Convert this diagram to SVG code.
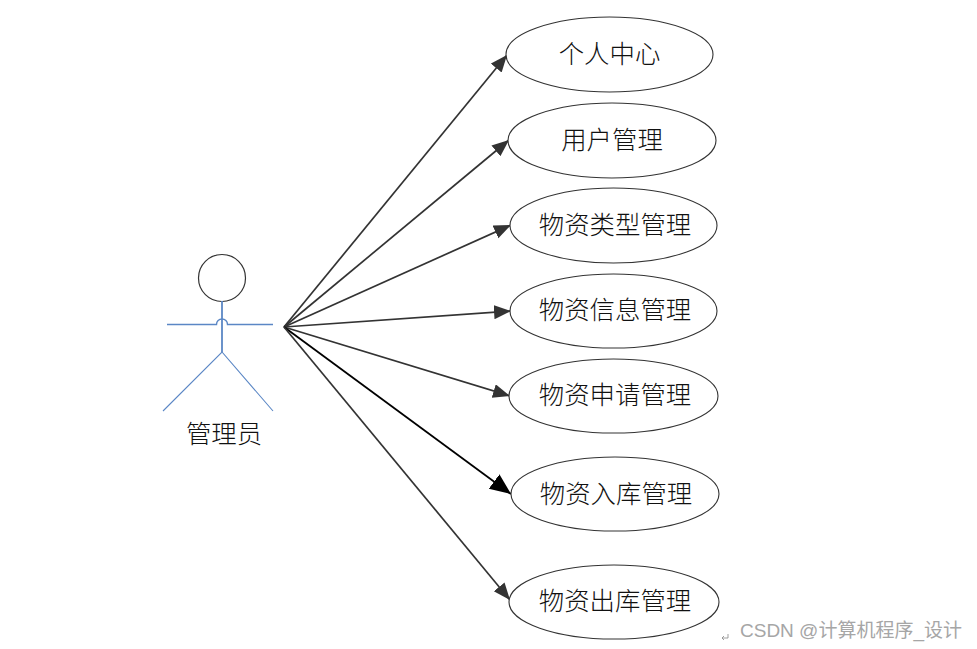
<svg xmlns="http://www.w3.org/2000/svg" width="977" height="649" viewBox="0 0 977 649">
<style>
.bg{fill:#fff}
.uc{fill:#fff;stroke:#333;stroke-width:1.1}
.lb{font-family:"Liberation Serif","Noto Sans CJK SC",serif;font-size:25.4px;font-weight:300;fill:#111;text-anchor:middle}
.con{stroke:#333;stroke-width:1.7;fill:none;marker-end:url(#a)}
.blue{stroke:#5b87c5;fill:none}
.wm{font-family:"Liberation Sans","Noto Sans CJK SC",sans-serif;font-size:19px;fill:#a6a6a6}
</style>
<defs>
<marker id="a" markerUnits="userSpaceOnUse" markerWidth="20" markerHeight="16" refX="17" refY="7" orient="auto"><path d="M0 0L17 7L0 14Z" fill="#333"/></marker>
<marker id="b" markerUnits="userSpaceOnUse" markerWidth="24" markerHeight="20" refX="21" refY="9" orient="auto"><path d="M0 0L21 9L0 18Z" fill="#000"/></marker>
</defs>
<rect class="bg" width="977" height="649"/>
<g id="connectors">
<line class="con" x1="284" y1="327" x2="507" y2="55"/>
<line class="con" x1="284" y1="327" x2="509" y2="140"/>
<line class="con" x1="284" y1="327" x2="511" y2="225"/>
<line class="con" x1="284" y1="327" x2="511" y2="311"/>
<line class="con" x1="284" y1="327" x2="510" y2="396"/>
<line x1="284" y1="327" x2="511" y2="494" stroke="#000" stroke-width="1.8" marker-end="url(#b)"/>
<line class="con" x1="284" y1="327" x2="510" y2="600"/>
</g>
<g id="actor">
<circle cx="222" cy="278" r="23.5" fill="#fff" stroke="#333" stroke-width="1.2"/>
<line class="blue" stroke-width="1.8" x1="222" y1="301" x2="222" y2="352"/>
<path class="blue" stroke-width="1.4" d="M167 324.5H216.500A5.500 5.500 0 0 1 227.500 324.500H273"/>
<path class="blue" stroke-width="1.1" d="M163 411L222 352L273 411"/>
<text class="lb" x="224" y="443">管理员</text>
</g>
<g id="n1"><ellipse class="uc" cx="609.5" cy="54.5" rx="103.5" ry="37.5"/><text class="lb" x="609.5" y="63">个人中心</text></g>
<g id="n2"><ellipse class="uc" cx="612" cy="140.5" rx="104" ry="37.5"/><text class="lb" x="612" y="149">用户管理</text></g>
<g id="n3"><ellipse class="uc" cx="613.5" cy="225.5" rx="103.5" ry="37.5"/><text class="lb" x="615" y="234">物资类型管理</text></g>
<g id="n4"><ellipse class="uc" cx="613.5" cy="311" rx="103.5" ry="37"/><text class="lb" x="615" y="319">物资信息管理</text></g>
<g id="n5"><ellipse class="uc" cx="613.5" cy="396" rx="104.5" ry="37"/><text class="lb" x="615" y="404">物资申请管理</text></g>
<g id="n6"><ellipse class="uc" cx="615" cy="494" rx="104" ry="37"/><text class="lb" x="616" y="503">物资入库管理</text></g>
<g id="n7"><ellipse class="uc" cx="614" cy="602" rx="105" ry="37"/><text class="lb" x="615" y="610">物资出库管理</text></g>
<path d="M728 634V638H722M724 636L722 638L724 640" fill="none" stroke="#888" stroke-width="0.8"/>
<text class="wm" x="740" y="637">CSDN @计算机程序_设计</text>
</svg>
